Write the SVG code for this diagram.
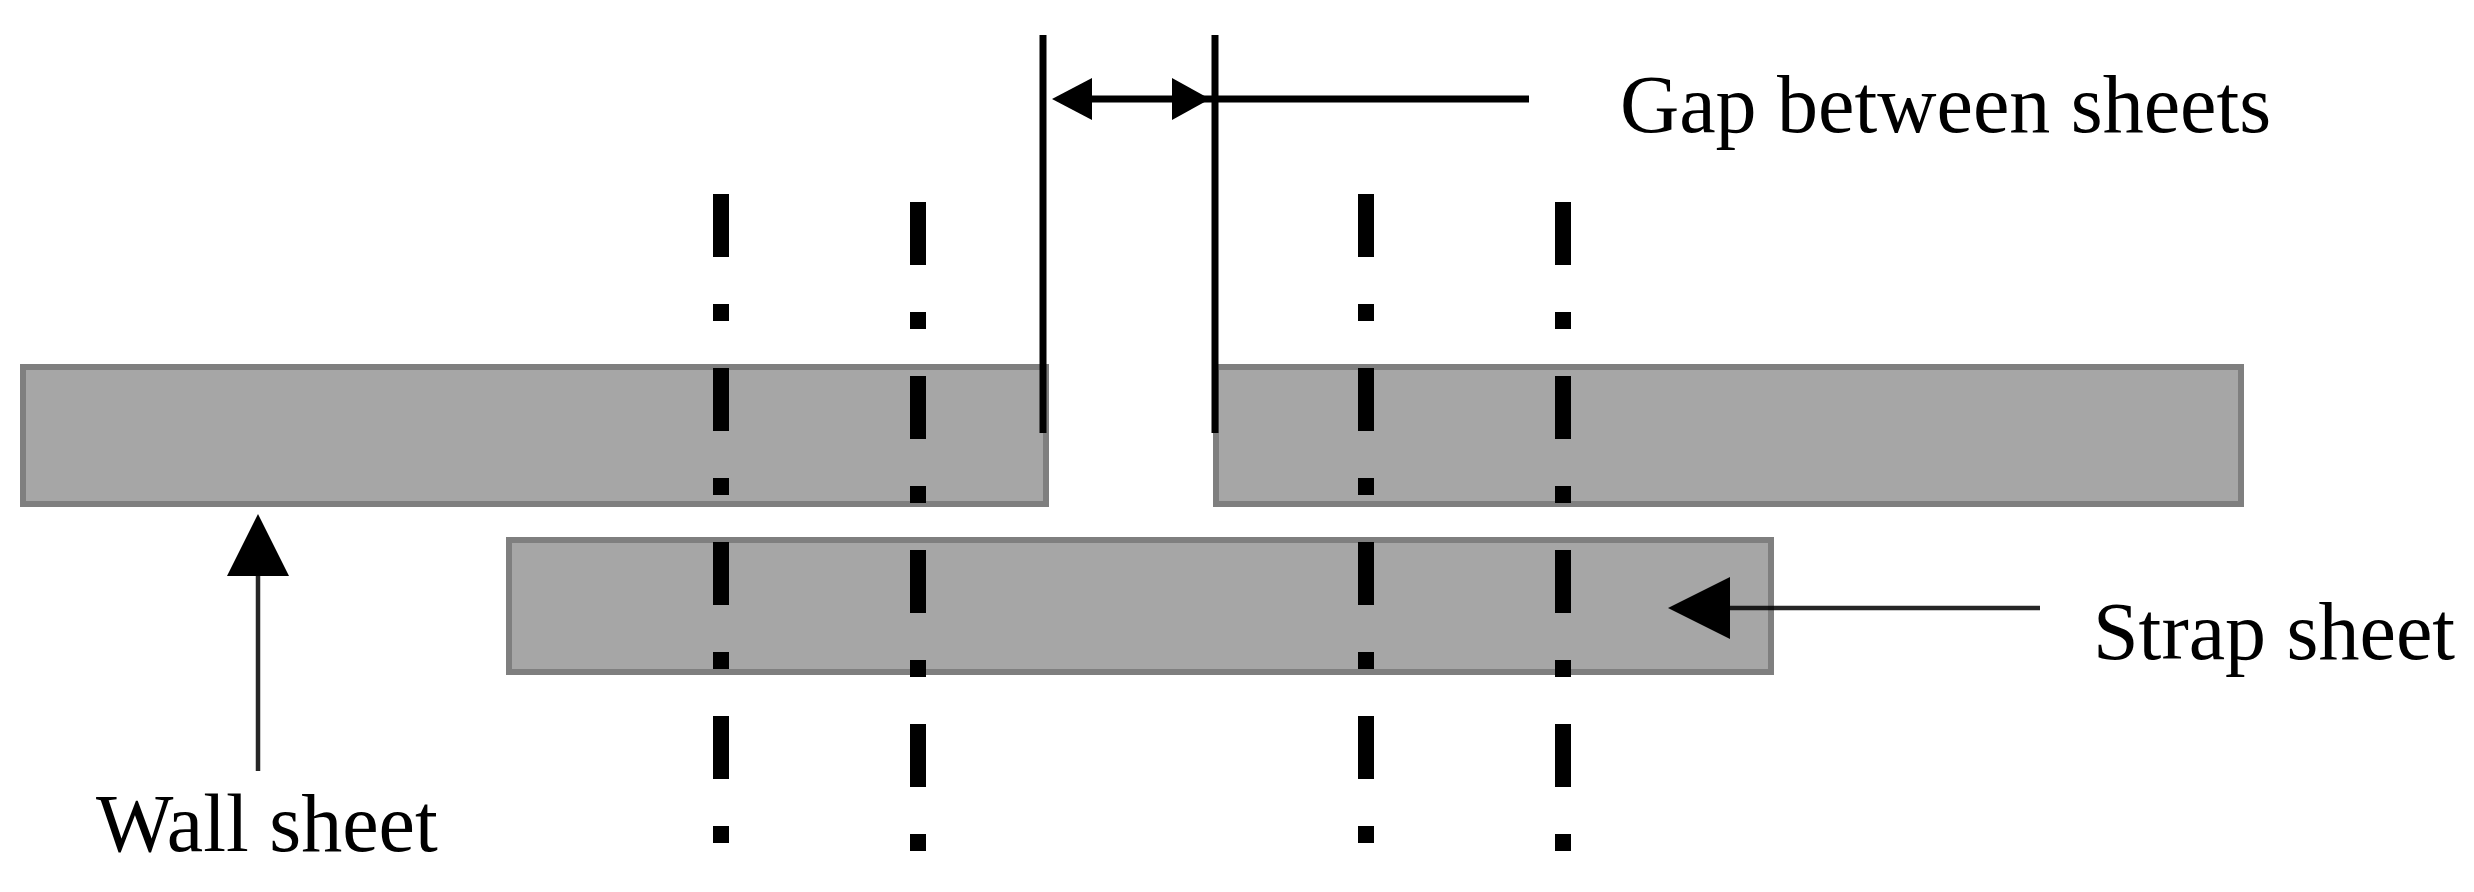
<svg xmlns="http://www.w3.org/2000/svg" width="2474" height="892" viewBox="0 0 2474 892">
<style>
.sheet{fill:#a6a6a6;stroke:#7f7f7f;stroke-width:6}
.dd{stroke:#000;stroke-width:16;stroke-dasharray:63 47 17 47;fill:none}
.ln{stroke:#000;fill:none}
.lbl{font-family:"Liberation Serif","Times New Roman",serif;font-size:82px;fill:#000}
</style>
<rect width="2474" height="892" fill="#fff"/>
<g id="wall-sheet-left"><rect class="sheet" x="23" y="367" width="1023" height="137"/></g>
<g id="wall-sheet-right"><rect class="sheet" x="1216" y="367" width="1025" height="137"/></g>
<g id="strap-sheet"><rect class="sheet" x="509" y="540" width="1262" height="132"/></g>
<g id="connectors">
<line class="dd" x1="721" y1="194" x2="721" y2="843"/>
<line class="dd" x1="918" y1="202" x2="918" y2="851"/>
<line class="dd" x1="1366" y1="194" x2="1366" y2="843"/>
<line class="dd" x1="1563" y1="202" x2="1563" y2="851"/>
<line class="ln" stroke-width="7" x1="1043" y1="35" x2="1043" y2="433"/>
<line class="ln" stroke-width="7" x1="1215" y1="35" x2="1215" y2="433"/>
<line class="ln" stroke-width="7" x1="1085" y1="99" x2="1529" y2="99"/>
<polygon points="1052,99 1092,78 1092,120"/>
<polygon points="1210,99 1172,78 1172,120"/>
<line class="ln" stroke-width="4.5" stroke-opacity="0.85" x1="258" y1="570" x2="258" y2="771"/>
<polygon points="258,514 289,576 227,576"/>
<line class="ln" stroke-width="4.5" stroke-opacity="0.85" x1="1725" y1="608" x2="2040" y2="608"/>
<polygon points="1668,608 1730,577 1730,639"/>
</g>
<g id="label-gap"><text class="lbl" x="1620" y="132">Gap between sheets</text></g>
<g id="label-strap"><text class="lbl" x="2093" y="659">Strap sheet</text></g>
<g id="label-wall"><text class="lbl" x="96" y="851">Wall sheet</text></g>
</svg>
